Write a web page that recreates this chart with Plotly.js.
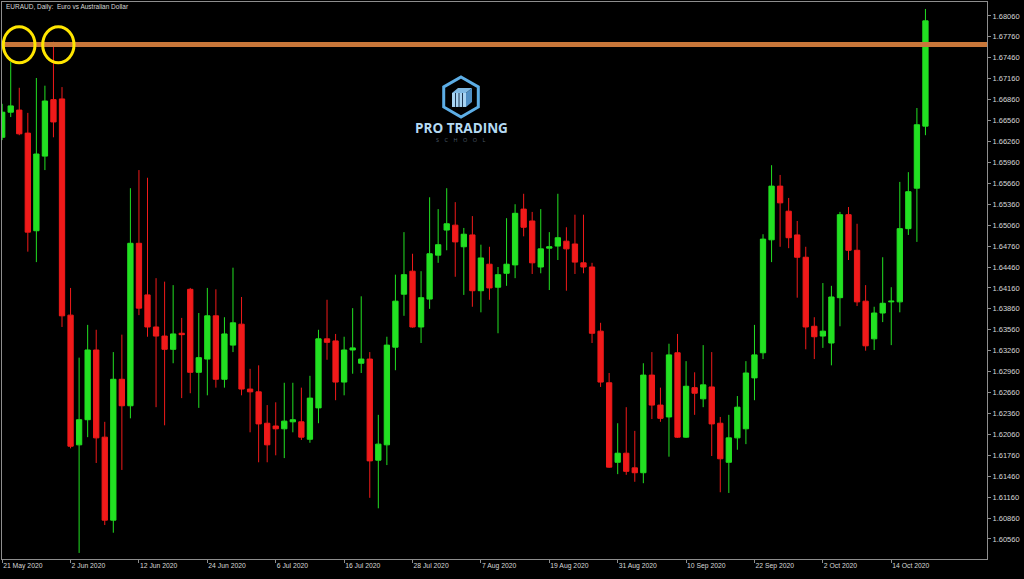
<!DOCTYPE html>
<html>
<head>
<meta charset="utf-8">
<script src="https://cdn.plot.ly/plotly-3.0.1.min.js"></script>
<style>
html,body{margin:0;padding:0;background:#000;}
#chart{width:1024px;height:579px;}
</style>
</head>
<body>
<div id="chart"></div>
<script>
// ---- data (EURAUD daily) ----
const dates = [
'2020-05-21','2020-05-22','2020-05-25','2020-05-26','2020-05-27','2020-05-28','2020-05-29',
'2020-06-01','2020-06-02','2020-06-03','2020-06-04','2020-06-05',
'2020-06-08','2020-06-09','2020-06-10','2020-06-11','2020-06-12',
'2020-06-15','2020-06-16','2020-06-17','2020-06-18','2020-06-19',
'2020-06-22','2020-06-23','2020-06-24','2020-06-25','2020-06-26',
'2020-06-29','2020-06-30','2020-07-01','2020-07-02','2020-07-03',
'2020-07-06','2020-07-07','2020-07-08','2020-07-09','2020-07-10',
'2020-07-13','2020-07-14','2020-07-15','2020-07-16','2020-07-17',
'2020-07-20','2020-07-21','2020-07-22','2020-07-23','2020-07-24',
'2020-07-27','2020-07-28','2020-07-29','2020-07-30','2020-07-31',
'2020-08-03','2020-08-04','2020-08-05','2020-08-06','2020-08-07',
'2020-08-10','2020-08-11','2020-08-12','2020-08-13','2020-08-14',
'2020-08-17','2020-08-18','2020-08-19','2020-08-20','2020-08-21',
'2020-08-24','2020-08-25','2020-08-26','2020-08-27','2020-08-28',
'2020-08-31','2020-09-01','2020-09-02','2020-09-03','2020-09-04',
'2020-09-07','2020-09-08','2020-09-09','2020-09-10','2020-09-11',
'2020-09-14','2020-09-15','2020-09-16','2020-09-17','2020-09-18',
'2020-09-21','2020-09-22','2020-09-23','2020-09-24','2020-09-25',
'2020-09-28','2020-09-29','2020-09-30','2020-10-01','2020-10-02',
'2020-10-05','2020-10-06','2020-10-07','2020-10-08','2020-10-09',
'2020-10-12','2020-10-13','2020-10-14','2020-10-15','2020-10-16',
'2020-10-19','2020-10-20'
];
const openP = [
1.6632,1.6668,1.6671,1.6638,1.6498,1.6605,1.6686,1.6687,1.6377,1.6191,
1.6227,1.6327,1.6202,1.6083,1.6285,1.6247,1.6480,1.6406,1.6360,1.6347,
1.6328,1.6351,1.6414,1.6295,1.6314,1.6376,1.6285,1.6334,1.6364,1.6271,
1.6267,1.6222,1.6218,1.6214,1.6224,1.6224,1.6199,1.6244,1.6343,1.6340,
1.6281,1.6327,1.6308,1.6314,1.6169,1.6191,1.6331,1.6407,1.6440,1.6360,
1.6400,1.6463,1.6499,1.6506,1.6475,1.6492,1.6412,1.6450,1.6417,1.6437,
1.6449,1.6529,1.6512,1.6446,1.6473,1.6476,1.6483,1.6479,1.6452,1.6446,
1.6354,1.6280,1.6166,1.6179,1.6158,1.6151,1.6291,1.6248,1.6231,1.6323,
1.6202,1.6273,1.6257,1.6274,1.6222,1.6166,1.6201,1.6214,1.6287,1.6323,
1.6485,1.6562,1.6526,1.6492,1.6460,1.6361,1.6347,1.6337,1.6402,1.6521,
1.6470,1.6397,1.6343,1.6380,1.6396,1.6396,1.6501,1.6559,1.6648
];
const highP = [
1.6680,1.6740,1.6703,1.6667,1.6717,1.6706,1.6769,1.6704,1.6416,1.6316,
1.6363,1.6356,1.6224,1.6324,1.6349,1.6559,1.6585,1.6574,1.6430,1.6425,
1.6420,1.6373,1.6416,1.6380,1.6416,1.6414,1.6374,1.6445,1.6403,1.6300,
1.6305,1.6248,1.6252,1.6280,1.6280,1.6273,1.6290,1.6356,1.6399,1.6350,
1.6346,1.6387,1.6404,1.6324,1.6234,1.6346,1.6435,1.6496,1.6465,1.6440,
1.6546,1.6529,1.6559,1.6539,1.6502,1.6519,1.6478,1.6475,1.6446,1.6516,
1.6536,1.6551,1.6525,1.6529,1.6496,1.6551,1.6503,1.6521,1.6521,1.6452,
1.6366,1.6294,1.6222,1.6245,1.6211,1.6308,1.6324,1.6273,1.6336,1.6350,
1.6311,1.6295,1.6334,1.6324,1.6231,1.6234,1.6261,1.6311,1.6363,1.6493,
1.6592,1.6578,1.6545,1.6512,1.6475,1.6374,1.6423,1.6419,1.6525,1.6532,
1.6508,1.6420,1.6389,1.6460,1.6417,1.6568,1.6582,1.6674,1.6816
];
const lowP = [
1.6628,1.6661,1.6635,1.6468,1.6453,1.6585,1.6632,1.6360,1.6186,1.6036,
1.6202,1.6165,1.6076,1.6065,1.6155,1.6229,1.6377,1.6346,1.6245,1.6219,
1.6308,1.6258,1.6265,1.6244,1.6262,1.6273,1.6273,1.6324,1.6262,1.6209,
1.6166,1.6166,1.6176,1.6172,1.6209,1.6198,1.6194,1.6222,1.6313,1.6255,
1.6262,1.6293,1.6294,1.6115,1.6100,1.6162,1.6298,1.6376,1.6359,1.6337,
1.6386,1.6452,1.6470,1.6432,1.6406,1.6389,1.6381,1.6399,1.6351,1.6419,
1.6430,1.6490,1.6436,1.6437,1.6413,1.6456,1.6412,1.6436,1.6437,1.6337,
1.6274,1.6158,1.6149,1.6148,1.6138,1.6136,1.6228,1.6224,1.6174,1.6201,
1.6201,1.6234,1.6245,1.6175,1.6123,1.6122,1.6184,1.6192,1.6255,1.6314,
1.6453,1.6475,1.6473,1.6402,1.6328,1.6314,1.6330,1.6305,1.6361,1.6456,
1.6390,1.6326,1.6327,1.6367,1.6334,1.6381,1.6492,1.6482,1.6635
];
const closeP = [
1.6668,1.6677,1.6637,1.6496,1.6608,1.6684,1.6654,1.6376,1.6189,1.6227,
1.6327,1.6201,1.6083,1.6285,1.6247,1.6480,1.6387,1.6360,1.6347,1.6328,
1.6350,1.6349,1.6295,1.6316,1.6376,1.6285,1.6350,1.6366,1.6271,1.6267,
1.6221,1.6191,1.6214,1.6225,1.6227,1.6202,1.6258,1.6343,1.6338,1.6281,
1.6327,1.6330,1.6314,1.6168,1.6192,1.6334,1.6397,1.6435,1.6360,1.6402,
1.6465,1.6478,1.6508,1.6482,1.6493,1.6412,1.6459,1.6416,1.6435,1.6450,
1.6523,1.6503,1.6452,1.6472,1.6475,1.6488,1.6472,1.6453,1.6446,1.6351,
1.6281,1.6159,1.6179,1.6153,1.6151,1.6291,1.6248,1.6229,1.6320,1.6202,
1.6275,1.6265,1.6277,1.6221,1.6171,1.6201,1.6245,1.6294,1.6320,1.6486,
1.6562,1.6538,1.6488,1.6460,1.6360,1.6346,1.6354,1.6403,1.6521,1.6470,
1.6396,1.6333,1.6380,1.6394,1.6397,1.6501,1.6554,1.6650,1.6799
];
const xTickDates = ['2020-05-21','2020-06-02','2020-06-12','2020-06-24','2020-07-06','2020-07-16','2020-07-28',
  '2020-08-07','2020-08-19','2020-08-31','2020-09-10','2020-09-22','2020-10-02','2020-10-14'];
const xTickLabels = ['21 May 2020','2 Jun 2020','12 Jun 2020','24 Jun 2020','6 Jul 2020','16 Jul 2020','28 Jul 2020',
  '7 Aug 2020','19 Aug 2020','31 Aug 2020','10 Sep 2020','22 Sep 2020','2 Oct 2020','14 Oct 2020'];
const yTickVals = [1.6056,1.6086,1.6116,1.6146,1.6176,1.6206,1.6236,1.6266,1.6296,1.6326,1.6356,1.6386,1.6416,
  1.6446,1.6476,1.6506,1.6536,1.6566,1.6596,1.6626,1.6656,1.6686,1.6716,1.6746,1.6776,1.6806];
const resistanceLevel = 1.6765;
const chartTitle = 'EURAUD, Daily:\u00a0 Euro vs Australian Dollar';
const logoTitle = 'PRO TRADING';
const logoSub = 'S\u2003C\u2003H\u2003O\u2003O\u2003L';

// ---- styling ----
const GREEN = '#22E022', RED = '#F01A1A', FRAME = '#8e8e8e', TXT = '#d8d8d8';
const yTickFont = {family:'Liberation Sans, Arial, sans-serif', size:7.5, color:TXT};
const xTickFont = {family:'Liberation Sans, Arial, sans-serif', size:6.8, color:TXT};

const logoSvg = '<svg xmlns="http://www.w3.org/2000/svg" width="40" height="44" viewBox="0 0 40 44">' +
 '<polygon points="20,2 37.3,12 37.3,32 20,42 2.7,32 2.7,12" fill="none" stroke="#5DAEE6" stroke-width="3"/>' +
 '<polygon points="11,18 17,13 31,13 25,18" fill="#7FB9E3"/>' +
 '<polygon points="25,18 31,13 31,27 25,32" fill="#4F8FC4"/>' +
 '<rect x="11" y="18" width="14" height="14" fill="#A9D4F2"/>' +
 '<line x1="14.5" y1="18" x2="14.5" y2="32" stroke="#1d3550" stroke-width="1"/>' +
 '<line x1="18" y1="18" x2="18" y2="32" stroke="#1d3550" stroke-width="1"/>' +
 '<line x1="21.5" y1="18" x2="21.5" y2="32" stroke="#1d3550" stroke-width="1"/>' +
 '</svg>';

const trace = {
  type:'candlestick', x:dates, open:openP, high:highP, low:lowP, close:closeP,
  increasing:{line:{color:GREEN, width:1}, fillcolor:GREEN},
  decreasing:{line:{color:RED, width:1}, fillcolor:RED},
  whiskerwidth:0, hoverinfo:'skip', showlegend:false
};

const layout = {
  width:1024, height:579,
  margin:{l:2, r:37, t:2, b:20, pad:0},
  paper_bgcolor:'#000', plot_bgcolor:'#000',
  showlegend:false,
  boxgap:0.38, boxgroupgap:0,
  xaxis:{
    type:'category', range:[-0.02, 115.2], rangeslider:{visible:false},
    showgrid:false, zeroline:false, showline:true, mirror:true,
    linecolor:FRAME, linewidth:1, ticks:'outside', ticklen:3, tickcolor:FRAME,
    tickvals:xTickDates, ticktext:xTickLabels, ticklabelposition:'outside right',
    tickfont:xTickFont, fixedrange:true
  },
  yaxis:{
    side:'right', range:[1.60273, 1.68260], tickvals:yTickVals, tickformat:'.5f',
    showgrid:false, zeroline:false, showline:true, mirror:true,
    linecolor:FRAME, linewidth:1, ticks:'outside', ticklen:3, tickcolor:FRAME,
    tickfont:yTickFont, fixedrange:true
  },
  shapes:[
    {type:'line', xref:'paper', x0:0, x1:1, yref:'y', y0:resistanceLevel, y1:resistanceLevel,
     line:{color:'#C8773A', width:5}, layer:'above'},
    {type:'circle', xref:'paper', yref:'paper', x0:0.0013, x1:0.0335, y0:0.891, y1:0.9557,
     line:{color:'#FFE600', width:3}, layer:'above'},
    {type:'circle', xref:'paper', yref:'paper', x0:0.0413, x1:0.0731, y0:0.891, y1:0.9557,
     line:{color:'#FFE600', width:3}, layer:'above'}
  ],
  images:[{
    source:'data:image/svg+xml;charset=utf-8,' + encodeURIComponent(logoSvg),
    xref:'paper', yref:'paper', x:0.466, y:0.869, sizex:0.0406, sizey:0.079,
    xanchor:'center', yanchor:'top', sizing:'stretch', layer:'above'
  }],
  annotations:[
    {text:chartTitle, xref:'paper', yref:'paper', x:0.002, y:0.991, xanchor:'left', yanchor:'middle',
     showarrow:false, font:{family:'Liberation Sans, Arial, sans-serif', size:6.5, color:TXT}},
    {text:logoTitle, xref:'paper', yref:'paper', x:0.466, y:0.7738, xanchor:'center', yanchor:'middle',
     showarrow:false, font:{family:'Open Sans, sans-serif', size:13.5, color:'#B5DBF3', weight:700}},
    {text:logoSub, xref:'paper', yref:'paper', x:0.466, y:0.7531, xanchor:'center', yanchor:'middle',
     showarrow:false, font:{family:'Open Sans, sans-serif', size:5.5, color:'#4a5b68'}}
  ]
};

Plotly.newPlot('chart', [trace], layout, {staticPlot:true, displayModeBar:false});
</script>
</body>
</html>
